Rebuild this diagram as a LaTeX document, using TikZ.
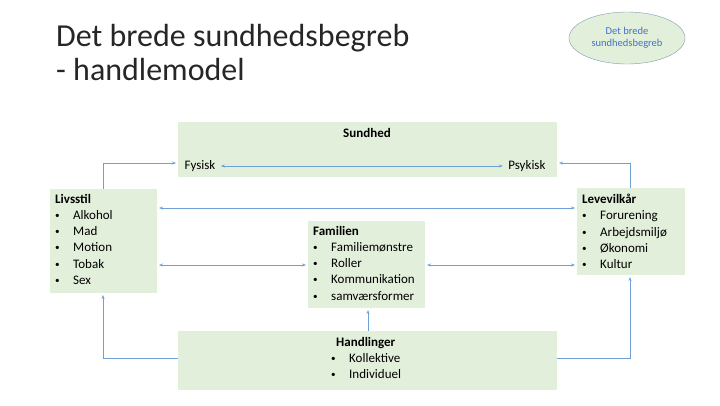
\documentclass[tikz,border=0pt]{standalone}
\usepackage{fontspec}
\setmainfont{Carlito}
\usetikzlibrary{arrows.meta,shapes.geometric}
\definecolor{boxg}{HTML}{E2EFDA}
\definecolor{arr}{HTML}{6FA0D8}
\definecolor{ellb}{HTML}{7F9AAE}
\definecolor{elt}{HTML}{4472C4}
\newcommand{\bul}[1]{\makebox[18pt][l]{\raisebox{1pt}{\scalebox{0.7}{\textbullet}}}#1}
\begin{document}
\begin{tikzpicture}[x=1pt,y=-1pt,
 box/.style={fill=boxg,draw=none},
 txt/.style={font=\fontsize{13}{16.2}\selectfont,align=left,inner sep=0pt,anchor=north west},
 con/.style={draw=arr,line width=0.6pt,-{Stealth[length=4pt,width=3pt]},shorten >=2pt},
 bi/.style={draw=arr,line width=0.6pt,{Stealth[length=4pt,width=3pt]}-{Stealth[length=4pt,width=3pt]},shorten >=2pt,shorten <=2pt}]
\useasboundingbox (0,0) rectangle (720,405);
\node[txt,font=\fontsize{32}{34}\selectfont,anchor=north west,text=black!85] (title) at (56,24) {Det brede sundhedsbegreb\\- handlemodel};
\node[ellipse,draw=ellb,fill=boxg,minimum width=116,minimum height=52,align=center,text=elt,font=\fontsize{10.5}{12.5}\selectfont] (ell) at (627,38) {Det brede\\sundhedsbegreb};
% boxes
\path[box] (178,122) rectangle (557,177);
\coordinate (sL) at (178,163); \coordinate (sR) at (557,163);
\node[font=\fontsize{13}{14}\selectfont\bfseries] (sund) at (367,133) {Sundhed};
\node[font=\fontsize{13}{14}\selectfont,anchor=west] (fys) at (181,166) {Fysisk};
\node[font=\fontsize{13}{14}\selectfont,anchor=east] (psy) at (549,166) {Psykisk};
\path[box] (50,189) rectangle (157,293);
\node[txt] (liv) at (55,194) {\textbf{Livsstil}\\\bul{Alkohol}\\\bul{Mad}\\\bul{Motion}\\\bul{Tobak}\\\bul{Sex}};
\path[box] (577,188) rectangle (685,275);
\node[txt] (lev) at (582,194) {\textbf{Levevilkår}\\\bul{Forurening}\\\bul{Arbejdsmiljø}\\\bul{Økonomi}\\\bul{Kultur}};
\path[box] (308,221) rectangle (425,308);
\node[txt] (fam) at (313,226) {\textbf{Familien}\\\bul{Familiemønstre}\\\bul{Roller}\\\bul{Kommunikation}\\\bul{samværsformer}};
\path[box] (178,331) rectangle (557,390);
\node[txt,align=left] (han) at (331,337) {\hspace*{5pt}\textbf{Handlinger}\\\bul{Kollektive}\\\bul{Individuel}};
\coordinate (livT) at (103,189); \coordinate (livB) at (103,293);
\coordinate (levT) at (630,188); \coordinate (levB) at (630,275);
\coordinate (famB) at (368,308); \coordinate (hanT) at (368,331);
\coordinate (hanL) at (178,358); \coordinate (hanR) at (557,358);
% connectors
\draw[bi] (fys.east) -- (psy.west);
\draw[con] (livT) |- (sL);
\draw[con] (levT) |- (sR);
\draw[bi] (157,208) -- (577,208);
\draw[bi] (157,265) -- (308,265);
\draw[bi] (425,265) -- (577,265);
\draw[con] (hanT) -- (famB);
\draw[con] (hanL) -| (livB);
\draw[con] (hanR) -| (levB);
\end{tikzpicture}
\end{document}
